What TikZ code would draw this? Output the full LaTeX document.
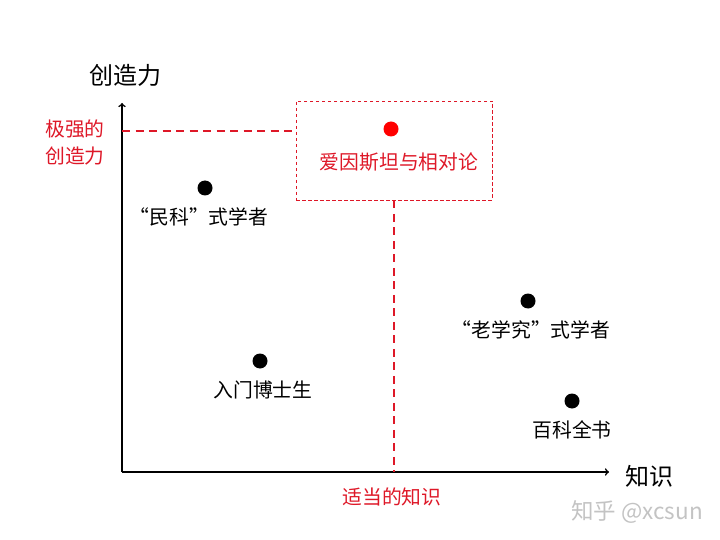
\documentclass[tikz,border=0pt]{standalone}
\usepackage{fontspec}
\setmainfont{Noto Sans CJK SC}
\usetikzlibrary{arrows, positioning, calc}
\definecolor{zred}{RGB}{222,24,40}
\definecolor{mark}{RGB}{195,195,195}

\begin{document}
\begin{tikzpicture}[x=1pt, y=-1pt,
    dot/.style={circle, fill=black, inner sep=0pt, minimum size=15pt},
    lbl/.style={font=\fontsize{19.8}{27}\selectfont, inner sep=0pt},
    axlbl/.style={font=\fontsize{24}{28}\selectfont, inner sep=0pt},
    guide/.style={draw=zred, line width=1.8pt, dash pattern=on 8pt off 5.5pt}]
    \useasboundingbox (0,0) rectangle (720,540);
    % axes
    \coordinate (o) at (122,472);
    \coordinate (ytop) at (122,103);
    \coordinate (xend) at (609,472);
    \draw[line width=1.6pt, ->] (o) -- (ytop);
    \draw[line width=1.6pt, ->] (o) -- (xend);
    \node[axlbl] (ylabel) at (125,75) {创造力};
    \node[axlbl] (xlabel) at (649,476) {知识};
    % Einstein box
    \node[draw=zred, dashed, dash pattern=on 3.5pt off 2.5pt, line width=0.8pt, minimum width=196pt, minimum height=99pt] (box) at (394,150.5) {};
    \node[dot, fill=red] (ein) at (391,129) {};
    \node[lbl, text=zred] (einlbl) at (399,162) {爱因斯坦与相对论};
    \node[lbl, text=zred, align=center] (high) at (75,142) {极强的\\创造力};
    \node[lbl, text=zred] (fit) at (392,497) {适当的知识};
    \coordinate (hline) at (box.west |- 0,131);
    \draw[guide] (o |- hline) -- (hline);
    \draw[guide] (box.south) -- (box.south |- o);
    % scholars
    \node[dot] (minke) at (205,188) {};
    \node[lbl, below=12pt of minke, xshift=-6pt] (minkelbl) {“民科”式学者};
    \node[dot] (phd) at (260,361) {};
    \node[lbl, below=12pt of phd, xshift=3pt] (phdlbl) {入门博士生};
    \node[dot] (old) at (528,301) {};
    \node[lbl, below=12pt of old, xshift=3pt] (oldlbl) {“老学究”式学者};
    \node[dot] (ency) at (572,401) {};
    \node[lbl, below=12pt of ency] (encylbl) {百科全书};
    % watermark
    \node[text=mark, font=\fontsize{22.5}{26}\selectfont, inner sep=0pt] (wm) at (637,512) {知乎 @xcsun};
\end{tikzpicture}
\end{document}
